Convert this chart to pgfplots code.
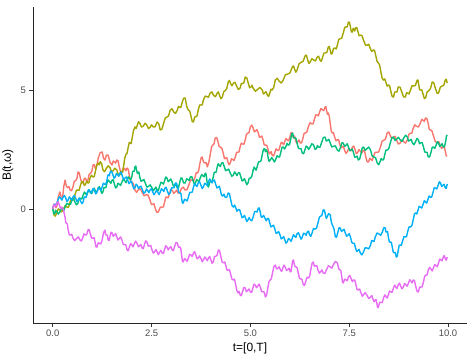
\documentclass[border=0pt]{standalone}
\usepackage{pgfplots}
\pgfplotsset{compat=1.18}
\usepackage{fontspec}
\setmainfont{Liberation Sans}
\definecolor{cR}{HTML}{F8766D}
\definecolor{cO}{HTML}{A3A500}
\definecolor{cG}{HTML}{00BF7D}
\definecolor{cB}{HTML}{00B0F6}
\definecolor{cM}{HTML}{E76BF3}
\begin{document}
\begin{tikzpicture}
\path[use as bounding box] (-33bp,-38bp) rectangle (441bp,323bp);
\begin{axis}[
  at={(0,0)}, anchor=south west,
  scale only axis, width=434bp, height=316bp,
  xmin=-0.5, xmax=10.48, ymin=-4.82, ymax=8.54,
  axis lines*=left,
  axis line style={-, line width=0.9bp, color=black!85},
  tick style={color=black!80, line width=0.9bp},
  major tick length=3.7bp, tick align=outside,
  xtick={0,2.5,5,7.5,10}, xticklabels={0.0,2.5,5.0,7.5,10.0},
  ytick={0,5}, yticklabels={0,5},
  tick label style={font=\fontsize{9.5}{11}\selectfont, color=black!70},
  xlabel={t=[0,T]}, ylabel={B(t,ω)},
  label style={font=\fontsize{12}{14}\selectfont},
  xlabel style={at={(axis description cs:0.5,-0.08)}, anchor=center},
  ylabel style={at={(axis description cs:-0.058,0.5)}, anchor=center},
  every axis plot/.append style={line width=1.4bp, line join=round},
]
\addplot[cR] table {
0 0
0.025 0.2
0.05 0.2
0.075 0.05
0.1 0.1
0.14 0.51
0.18 0.72
0.215 0.51
0.25 0.5
0.28 0.96
0.31 1.22
0.345 0.96
0.38 0.9
0.41 0.95
0.44 0.8
0.475 0.77
0.51 0.93
0.545 1.17
0.58 1.2
0.61 1.28
0.64 1.56
0.67 1.53
0.7 1.3
0.735 1.1
0.77 1.1
0.8 1.3
0.83 1.3
0.86 1.16
0.89 1.22
0.92 1.46
0.95 1.5
0.985 1.58
1.02 1.86
1.05 1.88
1.08 1.7
1.115 1.83
1.15 2.15
1.2 2.38
1.25 2.41
1.285 2.14
1.32 2.07
1.36 2.28
1.4 2.28
1.45 1.97
1.5 1.86
1.53 2.03
1.56 2.0
1.59 1.94
1.62 2.07
1.65 2.04
1.68 1.8
1.715 1.58
1.75 1.56
1.785 1.73
1.82 1.7
1.85 1.62
1.88 1.73
1.91 1.67
1.94 1.4
1.97 1.17
2.0 1.14
2.04 1.07
2.08 0.8
2.12 0.7
2.16 0.8
2.21 0.86
2.26 0.72
2.31 0.56
2.36 0.6
2.41 0.59
2.46 0.38
2.495 0.19
2.53 0.2
2.56 0.22
2.59 0.04
2.63 -0.14
2.67 -0.13
2.72 0.075
2.77 0.08
2.8 0.09
2.83 0.3
2.86 0.5
2.89 0.5
2.92 0.475
2.95 0.65
2.985 0.825
3.02 0.8
3.06 0.66
3.1 0.72
3.135 0.8
3.17 0.68
3.21 0.665
3.25 0.85
3.3 0.925
3.35 0.8
3.4 0.825
3.45 1.05
3.49 1.235
3.53 1.22
3.565 1.185
3.6 1.35
3.63 1.535
3.66 1.52
3.69 1.61
3.72 1.9
3.75 2.15
3.78 2.2
3.815 1.975
3.85 1.95
3.88 1.965
3.91 1.78
3.95 1.975
3.99 2.37
4.02 2.635
4.05 2.7
4.08 2.75
4.11 3.0
4.145 3.025
4.18 2.85
4.21 2.635
4.24 2.62
4.28 2.56
4.32 2.3
4.345 2.125
4.37 2.15
4.4 2.175
4.43 2.0
4.46 1.87
4.49 1.94
4.52 2.12
4.55 2.1
4.585 2.05
4.62 2.2
4.65 2.4
4.68 2.4
4.71 2.41
4.74 2.62
4.77 2.785
4.8 2.75
4.835 2.735
4.87 2.92
4.9 3.16
4.93 3.2
4.965 3.235
5.0 3.47
5.035 3.545
5.07 3.42
5.1 3.26
5.13 3.3
5.165 3.355
5.2 3.21
5.23 3.03
5.26 3.05
5.29 3.085
5.32 2.92
5.35 2.71
5.38 2.7
5.415 2.695
5.45 2.49
5.475 2.33
5.5 2.37
5.525 2.425
5.55 2.28
5.585 2.24
5.62 2.4
5.65 2.545
5.68 2.49
5.715 2.47
5.75 2.65
5.78 2.82
5.81 2.79
5.84 2.72
5.87 2.85
5.9 2.985
5.93 2.92
5.965 2.885
6.0 3.05
6.03 3.23
6.06 3.21
6.08 3.03
6.1 3.05
6.12 3.085
6.14 2.92
6.17 2.785
6.2 2.85
6.23 2.92
6.26 2.79
6.295 2.795
6.33 3.0
6.36 3.205
6.39 3.21
6.43 3.255
6.47 3.5
6.51 3.65
6.55 3.6
6.585 3.6
6.62 3.8
6.655 3.985
6.69 3.97
6.72 3.935
6.75 4.1
6.785 4.25
6.82 4.2
6.855 4.155
6.89 4.31
6.91 4.33
6.93 4.15
6.95 4.005
6.97 4.06
6.995 3.93
7.02 3.6
7.045 3.305
7.07 3.21
7.1 3.23
7.13 3.05
7.165 2.885
7.2 2.92
7.23 2.935
7.26 2.75
7.29 2.585
7.32 2.62
7.35 2.66
7.38 2.5
7.415 2.355
7.45 2.41
7.485 2.555
7.52 2.5
7.55 2.46
7.58 2.62
7.615 2.66
7.65 2.5
7.68 2.335
7.71 2.37
7.745 2.51
7.78 2.45
7.82 2.37
7.86 2.49
7.89 2.445
7.92 2.2
7.955 1.995
7.99 1.99
8.02 2.145
8.05 2.1
8.08 2.05
8.11 2.2
8.155 2.4
8.2 2.4
8.245 2.41
8.29 2.62
8.33 2.86
8.37 2.9
8.415 2.955
8.46 3.21
8.5 3.255
8.54 3.1
8.58 2.97
8.62 3.04
8.66 3.07
8.7 2.9
8.745 2.745
8.79 2.79
8.835 2.92
8.88 2.85
8.925 2.785
8.97 2.92
9.01 3.16
9.05 3.2
9.085 3.21
9.12 3.42
9.16 3.56
9.2 3.5
9.25 3.465
9.3 3.63
9.335 3.79
9.37 3.75
9.4 3.7
9.43 3.85
9.465 3.825
9.5 3.6
9.525 3.37
9.55 3.34
9.59 3.32
9.63 3.1
9.68 2.845
9.73 2.79
9.765 2.845
9.8 2.7
9.84 2.56
9.88 2.62
9.905 2.635
9.93 2.45
9.955 2.245
9.98 2.24
};
\addplot[cO] table {
0 0
0.015 -0.025
0.03 -0.25
0.065 -0.3
0.1 -0.15
0.14 0.005
0.18 -0.04
0.225 -0.12
0.27 0.0
0.315 0.14
0.36 0.08
0.395 0.065
0.43 0.25
0.46 0.415
0.49 0.38
0.525 0.39
0.56 0.6
0.6 0.8
0.64 0.8
0.67 0.8
0.7 1.0
0.735 1.17
0.77 1.14
0.8 0.995
0.83 1.05
0.86 1.175
0.89 1.1
0.915 1.1
0.94 1.3
0.98 1.425
1.02 1.35
1.05 1.375
1.08 1.6
1.115 1.87
1.15 1.94
1.175 1.87
1.2 2.0
1.235 1.925
1.27 1.65
1.31 1.575
1.35 1.7
1.4 1.825
1.45 1.75
1.485 1.575
1.52 1.6
1.57 1.725
1.62 1.65
1.66 1.445
1.7 1.44
1.725 1.595
1.75 1.55
1.77 1.565
1.79 1.78
1.82 2.14
1.85 2.3
1.88 2.36
1.91 2.62
1.935 2.81
1.96 2.8
1.98 2.76
2.0 2.92
2.04 3.295
2.08 3.47
2.11 3.41
2.14 3.55
2.17 3.69
2.2 3.63
2.245 3.465
2.29 3.5
2.335 3.625
2.38 3.55
2.42 3.4
2.46 3.45
2.5 3.56
2.54 3.47
2.59 3.475
2.64 3.68
2.68 3.61
2.72 3.34
2.76 3.37
2.8 3.6
2.845 3.845
2.89 3.89
2.93 3.935
2.97 4.18
3.015 4.24
3.06 4.1
3.105 4.04
3.15 4.18
3.18 4.34
3.21 4.3
3.24 4.29
3.27 4.48
3.31 4.685
3.35 4.69
3.39 4.335
3.43 4.18
3.465 4.14
3.5 3.9
3.53 3.69
3.56 3.68
3.59 3.89
3.62 3.9
3.65 3.94
3.68 4.18
3.715 4.39
3.75 4.4
3.78 4.4
3.81 4.6
3.855 4.775
3.9 4.75
3.94 4.725
3.98 4.9
4.025 4.95
4.07 4.8
4.115 4.75
4.16 4.9
4.19 4.95
4.22 4.8
4.255 4.665
4.29 4.73
4.325 4.965
4.36 5.0
4.4 5.085
4.44 5.37
4.47 5.435
4.5 5.3
4.535 5.21
4.57 5.32
4.61 5.36
4.65 5.2
4.695 5.055
4.74 5.11
4.77 5.305
4.8 5.3
4.835 5.34
4.87 5.58
4.91 5.54
4.95 5.3
4.98 5.125
5.01 5.15
5.04 5.23
5.07 5.11
5.125 4.98
5.18 5.05
5.24 5.14
5.3 5.03
5.33 4.865
5.36 4.9
5.395 4.96
5.43 4.82
5.46 4.76
5.49 4.9
5.52 5.065
5.55 5.03
5.59 5.14
5.63 5.45
5.68 5.525
5.73 5.4
5.78 5.325
5.83 5.45
5.885 5.675
5.94 5.7
6.0 5.75
6.06 6.0
6.09 6.05
6.12 5.9
6.15 5.785
6.18 5.87
6.23 6.135
6.28 6.2
6.335 6.25
6.39 6.5
6.42 6.5
6.45 6.3
6.48 6.155
6.51 6.21
6.555 6.355
6.6 6.3
6.645 6.26
6.69 6.42
6.725 6.46
6.76 6.3
6.79 6.24
6.82 6.38
6.86 6.59
6.9 6.6
6.935 6.625
6.97 6.85
6.995 6.875
7.02 6.7
7.045 6.545
7.07 6.59
7.105 6.795
7.14 6.8
7.17 6.765
7.2 6.93
7.235 7.165
7.27 7.2
7.31 7.22
7.35 7.44
7.385 7.67
7.42 7.7
7.45 7.7
7.48 7.9
7.505 7.9
7.53 7.7
7.555 7.49
7.58 7.48
7.6 7.64
7.62 7.6
7.64 7.525
7.66 7.65
7.69 7.675
7.72 7.5
7.75 7.325
7.78 7.35
7.825 7.325
7.87 7.1
7.915 6.915
7.96 6.93
7.995 6.965
8.03 6.8
8.07 6.66
8.11 6.72
8.14 6.71
8.17 6.5
8.205 6.235
8.24 6.17
8.27 6.085
8.3 5.8
8.335 5.525
8.37 5.45
8.4 5.5
8.43 5.35
8.46 5.195
8.49 5.24
8.52 5.22
8.55 5.0
8.585 4.765
8.62 4.73
8.65 4.94
8.68 4.95
8.71 4.955
8.74 5.16
8.785 5.155
8.83 4.95
8.875 4.74
8.92 4.73
8.95 4.915
8.98 4.9
9.015 4.865
9.05 5.03
9.09 5.215
9.13 5.2
9.175 5.225
9.22 5.45
9.24 5.45
9.26 5.25
9.28 5.04
9.3 5.03
9.335 5.04
9.37 4.85
9.4 4.67
9.43 4.69
9.47 4.945
9.51 5.0
9.555 5.085
9.6 5.37
9.64 5.335
9.68 5.1
9.72 4.9
9.76 4.9
9.805 5.15
9.85 5.2
9.89 5.225
9.93 5.45
9.955 5.485
9.98 5.32
};
\addplot[cG] table {
0 0
0.025 -0.2
0.05 -0.2
0.075 -0.05
0.1 -0.1
0.14 -0.215
0.18 -0.13
0.215 0.035
0.25 0.0
0.28 -0.06
0.31 0.08
0.355 0.24
0.4 0.2
0.445 0.19
0.49 0.38
0.525 0.44
0.56 0.3
0.6 0.175
0.64 0.25
0.67 0.45
0.7 0.45
0.735 0.42
0.77 0.59
0.8 0.72
0.83 0.65
0.86 0.585
0.89 0.72
0.92 0.81
0.95 0.7
0.985 0.65
1.02 0.8
1.05 0.875
1.08 0.75
1.115 0.72
1.15 0.89
1.18 0.945
1.21 0.8
1.24 0.66
1.27 0.72
1.295 0.91
1.32 0.9
1.345 0.9
1.37 1.1
1.405 1.225
1.44 1.15
1.47 1.085
1.5 1.22
1.53 1.235
1.56 1.05
1.59 0.89
1.62 0.93
1.65 1.09
1.68 1.05
1.715 0.995
1.75 1.14
1.785 1.27
1.82 1.2
1.85 1.11
1.88 1.22
1.91 1.36
1.94 1.3
1.97 1.225
2.0 1.35
2.02 1.575
2.04 1.6
2.06 1.59
2.08 1.78
2.1 1.815
2.12 1.65
2.14 1.505
2.16 1.56
2.18 1.555
2.2 1.35
2.235 1.175
2.27 1.2
2.305 1.25
2.34 1.1
2.38 0.925
2.42 0.95
2.465 1.02
2.51 0.89
2.545 0.77
2.58 0.85
2.61 0.925
2.64 0.8
2.67 0.775
2.7 0.95
2.735 1.125
2.77 1.1
2.8 1.05
2.83 1.2
2.86 1.355
2.89 1.31
2.92 1.155
2.95 1.2
2.985 1.27
3.02 1.14
3.05 0.97
3.08 1.0
3.115 1.045
3.15 0.89
3.18 0.895
3.21 1.1
3.24 1.305
3.27 1.31
3.31 1.105
3.35 1.1
3.385 1.275
3.42 1.25
3.45 1.2
3.48 1.35
3.515 1.375
3.55 1.2
3.58 1.05
3.61 1.1
3.64 1.25
3.67 1.2
3.7 1.155
3.73 1.31
3.765 1.455
3.8 1.4
3.83 1.36
3.86 1.52
3.88 1.46
3.9 1.2
3.92 0.965
3.94 0.93
3.97 1.14
4.0 1.15
4.03 1.15
4.06 1.35
4.085 1.55
4.11 1.55
4.135 1.565
4.16 1.78
4.185 1.915
4.21 1.85
4.24 1.795
4.27 1.94
4.305 1.96
4.34 1.78
4.375 1.615
4.41 1.65
4.45 1.685
4.49 1.52
4.53 1.38
4.57 1.44
4.6 1.57
4.63 1.5
4.66 1.41
4.69 1.52
4.725 1.535
4.76 1.35
4.79 1.185
4.82 1.22
4.85 1.285
4.88 1.15
4.91 1.025
4.94 1.1
4.97 1.3
5.0 1.3
5.035 1.375
5.07 1.65
5.095 1.775
5.12 1.7
5.145 1.64
5.17 1.78
5.205 1.99
5.24 2.0
5.27 2.05
5.3 2.3
5.33 2.525
5.36 2.55
5.38 2.425
5.4 2.5
5.425 2.425
5.45 2.15
5.475 2.01
5.5 2.07
5.54 2.17
5.58 2.07
5.61 1.985
5.64 2.1
5.675 2.25
5.71 2.2
5.74 2.2
5.77 2.4
5.8 2.61
5.83 2.62
5.865 2.535
5.9 2.65
5.93 2.775
5.96 2.7
5.99 2.725
6.02 2.95
6.045 3.18
6.07 3.21
6.095 3.005
6.12 3.0
6.15 2.995
6.18 2.79
6.215 2.57
6.25 2.55
6.28 2.56
6.31 2.37
6.345 2.335
6.38 2.5
6.41 2.66
6.44 2.62
6.475 2.52
6.51 2.62
6.555 2.76
6.6 2.7
6.635 2.525
6.67 2.55
6.695 2.685
6.72 2.62
6.76 2.61
6.8 2.8
6.845 3.02
6.89 3.04
6.92 2.87
6.95 2.9
6.985 2.945
7.02 2.79
7.06 2.62
7.1 2.65
7.15 2.67
7.2 2.49
7.24 2.445
7.28 2.6
7.315 2.795
7.35 2.79
7.385 2.645
7.42 2.7
7.45 2.76
7.48 2.62
7.515 2.46
7.55 2.5
7.58 2.535
7.61 2.37
7.64 2.185
7.67 2.2
7.7 2.235
7.73 2.07
7.765 2.11
7.8 2.35
7.83 2.585
7.86 2.62
7.905 2.485
7.95 2.55
7.995 2.62
8.04 2.49
8.08 2.245
8.12 2.2
8.165 2.17
8.21 1.94
8.245 1.87
8.28 2.0
8.31 2.135
8.34 2.07
8.37 2.085
8.4 2.3
8.43 2.495
8.46 2.49
8.5 2.545
8.54 2.8
8.58 3.02
8.62 3.04
8.66 2.895
8.7 2.95
8.745 3.035
8.79 2.92
8.835 2.86
8.88 3.0
8.925 3.12
8.97 3.04
9.0 2.87
9.03 2.9
9.065 2.945
9.1 2.79
9.14 2.72
9.18 2.85
9.215 2.985
9.25 2.92
9.28 2.76
9.31 2.8
9.345 2.81
9.38 2.62
9.41 2.41
9.44 2.4
9.47 2.4
9.5 2.2
9.535 2.2
9.57 2.4
9.6 2.61
9.63 2.62
9.665 2.56
9.7 2.7
9.73 2.845
9.76 2.79
9.79 2.645
9.82 2.7
9.85 2.76
9.88 2.62
9.91 2.635
9.94 2.85
9.96 3.09
9.98 3.13
};
\addplot[cB] table {
0 0
0.03 0.2
0.06 0.2
0.095 0.19
0.13 0.38
0.165 0.515
0.2 0.45
0.23 0.375
0.26 0.5
0.295 0.575
0.33 0.45
0.36 0.315
0.39 0.38
0.42 0.515
0.45 0.45
0.48 0.375
0.51 0.5
0.545 0.575
0.58 0.45
0.61 0.315
0.64 0.38
0.67 0.465
0.7 0.35
0.735 0.225
0.77 0.3
0.795 0.5
0.82 0.5
0.845 0.49
0.87 0.68
0.905 0.815
0.94 0.75
0.97 0.675
1.0 0.8
1.03 0.875
1.06 0.75
1.09 0.635
1.12 0.72
1.155 0.885
1.19 0.85
1.22 0.79
1.25 0.93
1.28 1.09
1.31 1.05
1.34 1.035
1.37 1.22
1.395 1.435
1.42 1.45
1.435 1.405
1.45 1.56
1.485 1.605
1.52 1.45
1.55 1.3
1.58 1.35
1.61 1.5
1.64 1.45
1.67 1.385
1.7 1.52
1.73 1.56
1.76 1.4
1.795 1.255
1.83 1.31
1.865 1.355
1.9 1.2
1.93 1.07
1.96 1.14
1.99 1.17
2.02 1.0
2.05 0.85
2.08 0.9
2.11 1.05
2.14 1.0
2.17 0.865
2.2 0.93
2.235 0.965
2.27 0.8
2.305 0.66
2.34 0.72
2.37 0.85
2.4 0.78
2.43 0.69
2.46 0.8
2.495 0.86
2.53 0.72
2.56 0.6
2.59 0.68
2.625 0.79
2.66 0.7
2.69 0.61
2.72 0.72
2.75 0.86
2.78 0.8
2.81 0.745
2.84 0.89
2.87 0.92
2.9 0.75
2.935 0.615
2.97 0.68
3.005 0.89
3.04 0.9
3.07 0.9
3.1 1.1
3.13 1.1
3.16 0.9
3.19 0.69
3.22 0.68
3.24 0.665
3.26 0.45
3.28 0.25
3.3 0.25
3.335 0.415
3.37 0.38
3.4 0.34
3.43 0.5
3.465 0.7
3.5 0.7
3.53 0.715
3.56 0.93
3.59 1.065
3.62 1.0
3.65 0.95
3.68 1.1
3.715 1.15
3.75 1.0
3.78 0.865
3.81 0.93
3.845 1.09
3.88 1.05
3.91 0.995
3.94 1.14
3.97 1.27
4.0 1.2
4.03 1.1
4.06 1.2
4.09 1.225
4.12 1.05
4.155 0.89
4.19 0.93
4.215 0.965
4.24 0.8
4.27 0.575
4.3 0.55
4.33 0.625
4.36 0.5
4.4 0.49
4.44 0.68
4.47 0.64
4.5 0.4
4.535 0.14
4.57 0.08
4.6 0.165
4.63 0.05
4.66 -0.095
4.69 -0.04
4.725 -0.02
4.76 -0.2
4.79 -0.37
4.82 -0.34
4.85 -0.27
4.88 -0.4
4.91 -0.53
4.94 -0.46
4.97 -0.36
5.0 -0.46
5.035 -0.5
5.07 -0.34
5.105 -0.12
5.14 -0.1
5.17 -0.13
5.2 0.04
5.225 0.045
5.25 -0.15
5.275 -0.345
5.3 -0.34
5.335 -0.27
5.37 -0.4
5.4 -0.5
5.43 -0.4
5.46 -0.4
5.49 -0.6
5.52 -0.76
5.55 -0.72
5.585 -0.685
5.62 -0.85
5.65 -1.03
5.68 -1.01
5.715 -0.955
5.75 -1.1
5.78 -1.265
5.81 -1.23
5.84 -1.165
5.87 -1.3
5.9 -1.445
5.93 -1.39
5.965 -1.245
6.0 -1.3
6.03 -1.365
6.06 -1.23
6.09 -1.09
6.12 -1.15
6.15 -1.2
6.18 -1.05
6.215 -1.0
6.25 -1.15
6.28 -1.275
6.31 -1.2
6.345 -1.025
6.38 -1.05
6.41 -1.11
6.44 -0.97
6.47 -0.935
6.5 -1.1
6.53 -1.155
6.56 -1.01
6.595 -0.83
6.63 -0.85
6.67 -0.82
6.71 -0.59
6.745 -0.345
6.78 -0.3
6.81 -0.27
6.84 -0.04
6.87 -0.045
6.9 -0.25
6.92 -0.395
6.94 -0.34
6.98 -0.195
7.02 -0.25
7.05 -0.575
7.08 -0.7
7.115 -0.84
7.15 -1.18
7.18 -1.19
7.21 -1.0
7.24 -0.8
7.27 -0.8
7.305 -0.95
7.34 -0.9
7.37 -0.855
7.4 -1.01
7.435 -1.155
7.47 -1.1
7.5 -1.04
7.53 -1.18
7.565 -1.415
7.6 -1.45
7.63 -1.45
7.66 -1.65
7.69 -1.8
7.72 -1.75
7.75 -1.705
7.78 -1.86
7.82 -1.94
7.86 -1.82
7.905 -1.635
7.95 -1.65
7.995 -1.685
8.04 -1.52
8.07 -1.335
8.1 -1.35
8.13 -1.365
8.16 -1.18
8.205 -1.015
8.25 -1.05
8.295 -1.11
8.34 -0.97
8.375 -0.785
8.41 -0.8
8.43 -0.975
8.45 -0.95
8.47 -0.965
8.49 -1.18
8.515 -1.39
8.54 -1.4
8.565 -1.405
8.59 -1.61
8.615 -1.83
8.64 -1.85
8.665 -1.84
8.69 -2.03
8.715 -1.99
8.74 -1.75
8.765 -1.535
8.79 -1.52
8.82 -1.535
8.85 -1.35
8.885 -1.165
8.92 -1.18
8.95 -1.165
8.98 -0.95
9.015 -0.755
9.05 -0.76
9.085 -0.705
9.12 -0.45
9.15 -0.21
9.18 -0.17
9.21 -0.21
9.24 -0.05
9.27 0.115
9.3 0.08
9.335 0.04
9.37 0.2
9.4 0.35
9.43 0.3
9.46 0.25
9.49 0.4
9.52 0.55
9.55 0.5
9.585 0.5
9.62 0.7
9.65 0.895
9.68 0.89
9.715 0.845
9.75 1.0
9.78 1.15
9.81 1.1
9.84 0.95
9.87 1.0
9.9 1.045
9.93 0.89
9.955 0.875
9.98 1.06
};
\addplot[cM] table {
0 0
0.025 0.175
0.05 0.15
0.075 0.1
0.1 0.25
0.135 0.3
0.17 0.15
0.2 0.015
0.23 0.08
0.27 -0.03
0.31 -0.34
0.33 -0.57
0.35 -0.6
0.37 -0.645
0.39 -0.89
0.42 -1.095
0.45 -1.1
0.48 -1.065
0.51 -1.23
0.555 -1.34
0.6 -1.25
0.645 -1.18
0.69 -1.31
0.725 -1.355
0.76 -1.2
0.79 -1.05
0.82 -1.1
0.855 -1.095
0.89 -0.89
0.92 -0.87
0.95 -1.05
0.985 -1.24
1.02 -1.23
1.045 -1.215
1.07 -1.4
1.095 -1.605
1.12 -1.61
1.15 -1.43
1.18 -1.45
1.215 -1.48
1.25 -1.31
1.285 -1.0
1.32 -0.89
1.34 -1.095
1.36 -1.1
1.38 -1.105
1.4 -1.31
1.425 -1.33
1.45 -1.15
1.475 -0.98
1.5 -1.01
1.53 -1.155
1.56 -1.1
1.59 -1.04
1.62 -1.18
1.65 -1.315
1.68 -1.25
1.715 -1.18
1.75 -1.31
1.785 -1.505
1.82 -1.5
1.85 -1.515
1.88 -1.73
1.91 -1.765
1.94 -1.6
1.97 -1.46
2.0 -1.52
2.03 -1.6
2.06 -1.48
2.095 -1.36
2.13 -1.44
2.165 -1.595
2.2 -1.55
2.23 -1.5
2.26 -1.65
2.29 -1.675
2.32 -1.5
2.35 -1.345
2.38 -1.39
2.415 -1.57
2.45 -1.55
2.48 -1.54
2.51 -1.73
2.545 -1.865
2.58 -1.8
2.61 -1.71
2.64 -1.82
2.67 -1.93
2.7 -1.84
2.735 -1.75
2.77 -1.86
2.8 -1.88
2.83 -1.7
2.86 -1.555
2.89 -1.61
2.92 -1.73
2.95 -1.65
2.985 -1.59
3.02 -1.73
3.05 -1.765
3.08 -1.6
3.115 -1.42
3.15 -1.44
3.185 -1.625
3.22 -1.61
3.24 -1.68
3.26 -1.95
3.28 -2.195
3.3 -2.24
3.335 -2.095
3.37 -2.15
3.4 -2.21
3.43 -2.07
3.465 -1.91
3.5 -1.95
3.53 -2.005
3.56 -1.86
3.59 -1.805
3.62 -1.95
3.65 -2.11
3.68 -2.07
3.715 -1.985
3.75 -2.1
3.78 -2.23
3.81 -2.16
3.845 -2.03
3.88 -2.1
3.91 -2.185
3.94 -2.07
3.97 -2.01
4.0 -2.15
4.03 -2.295
4.06 -2.24
4.09 -2.02
4.12 -2.0
4.155 -1.965
4.19 -1.73
4.22 -1.765
4.25 -2.0
4.285 -2.24
4.32 -2.28
4.35 -2.24
4.38 -2.4
4.41 -2.59
4.44 -2.58
4.47 -2.565
4.5 -2.75
4.535 -2.975
4.57 -3.0
4.595 -2.965
4.62 -3.13
4.655 -3.44
4.69 -3.55
4.715 -3.49
4.74 -3.63
4.77 -3.665
4.8 -3.5
4.835 -3.32
4.87 -3.34
4.9 -3.495
4.93 -3.45
4.965 -3.38
5.0 -3.51
5.03 -3.53
5.06 -3.35
5.09 -3.18
5.12 -3.21
5.155 -3.33
5.19 -3.25
5.22 -3.175
5.25 -3.3
5.285 -3.5
5.32 -3.5
5.35 -3.51
5.38 -3.72
5.41 -3.635
5.44 -3.35
5.47 -3.075
5.5 -3.0
5.53 -2.95
5.56 -2.7
5.595 -2.435
5.63 -2.37
5.665 -2.535
5.7 -2.5
5.73 -2.44
5.76 -2.58
5.79 -2.64
5.82 -2.5
5.85 -2.375
5.88 -2.45
5.915 -2.6
5.95 -2.55
5.98 -2.505
6.01 -2.66
6.03 -2.63
6.05 -2.4
6.07 -2.18
6.09 -2.16
6.12 -2.405
6.15 -2.45
6.18 -2.475
6.21 -2.7
6.24 -2.925
6.27 -2.95
6.305 -2.98
6.34 -3.21
6.37 -3.23
6.4 -3.05
6.435 -2.885
6.47 -2.92
6.5 -2.835
6.53 -2.55
6.56 -2.295
6.59 -2.24
6.62 -2.42
6.65 -2.4
6.68 -2.39
6.71 -2.58
6.745 -2.715
6.78 -2.65
6.81 -2.575
6.84 -2.7
6.885 -2.725
6.93 -2.55
6.975 -2.4
7.02 -2.45
7.06 -2.5
7.1 -2.35
7.15 -2.215
7.2 -2.28
7.235 -2.53
7.27 -2.58
7.29 -2.615
7.31 -2.85
7.33 -3.09
7.35 -3.13
7.385 -2.965
7.42 -3.0
7.45 -3.035
7.48 -2.87
7.515 -2.81
7.55 -2.95
7.58 -3.075
7.61 -3.0
7.64 -3.0
7.67 -3.2
7.7 -3.41
7.73 -3.42
7.765 -3.385
7.8 -3.55
7.83 -3.69
7.86 -3.63
7.905 -3.54
7.95 -3.65
7.995 -3.785
8.04 -3.72
8.07 -3.66
8.1 -3.8
8.13 -3.925
8.16 -3.85
8.18 -3.825
8.2 -4.0
8.22 -4.17
8.24 -4.14
8.27 -3.945
8.3 -3.95
8.335 -3.955
8.37 -3.76
8.4 -3.63
8.43 -3.7
8.46 -3.765
8.49 -3.63
8.52 -3.465
8.55 -3.5
8.585 -3.52
8.62 -3.34
8.65 -3.22
8.68 -3.3
8.71 -3.355
8.74 -3.21
8.77 -3.13
8.8 -3.25
8.835 -3.375
8.87 -3.3
8.9 -3.15
8.93 -3.2
8.965 -3.265
9.0 -3.13
9.03 -2.99
9.06 -3.05
9.09 -3.125
9.12 -3.0
9.15 -3.025
9.18 -3.25
9.215 -3.48
9.25 -3.51
9.28 -3.305
9.31 -3.3
9.345 -3.29
9.38 -3.08
9.41 -2.84
9.44 -2.8
9.47 -2.79
9.5 -2.58
9.535 -2.465
9.57 -2.55
9.6 -2.62
9.63 -2.49
9.665 -2.345
9.7 -2.4
9.73 -2.44
9.76 -2.28
9.79 -2.115
9.82 -2.15
9.85 -2.19
9.88 -2.03
9.905 -1.965
9.93 -2.1
9.955 -2.165
9.98 -2.03
};
\end{axis}
\end{tikzpicture}
\end{document}
